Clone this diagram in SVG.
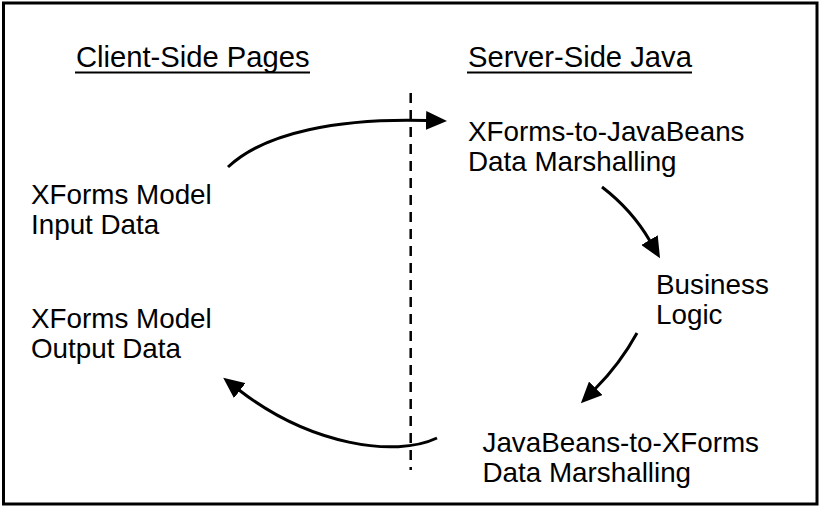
<svg xmlns="http://www.w3.org/2000/svg" width="822" height="509" viewBox="0 0 822 509">
  <style>
    text { font-family: "Liberation Sans", Arial, sans-serif; fill: #000; }
    .lbl { font-size: 27.8px; }
    .hdr { font-size: 29.2px; }
    .ul { stroke: #000; stroke-width: 2.2; }
    .conn { fill: none; stroke: #000; stroke-width: 3; marker-end: url(#arrow); }
  </style>
  <defs>
    <marker id="arrow" viewBox="0 0 21 19" markerWidth="21" markerHeight="19" refX="1" refY="9.5" markerUnits="userSpaceOnUse" orient="auto">
      <path d="M0,0 L21,9.5 L0,19 z" fill="#000"/>
    </marker>
  </defs>
  <rect x="0" y="0" width="822" height="509" fill="#fff"/>
  <rect x="3.5" y="3" width="813.5" height="501" fill="none" stroke="#000" stroke-width="3"/>

  <g id="heading-client">
    <text class="hdr" x="76" y="67">Client-Side Pages</text>
    <line class="ul" x1="75" y1="72.5" x2="310" y2="72.5"/>
  </g>
  <g id="heading-server">
    <text class="hdr" x="468" y="67">Server-Side Java</text>
    <line class="ul" x1="467" y1="72.5" x2="692" y2="72.5"/>
  </g>

  <line id="divider" x1="410.7" y1="93" x2="410.7" y2="470" stroke="#000" stroke-width="2.5" stroke-dasharray="10 7"/>

  <g id="input-data">
    <text class="lbl" x="31" y="204">XForms Model</text>
    <text class="lbl" x="31" y="234">Input Data</text>
  </g>
  <g id="output-data">
    <text class="lbl" x="31" y="328">XForms Model</text>
    <text class="lbl" x="31" y="358">Output Data</text>
  </g>
  <g id="xf-to-jb">
    <text class="lbl" x="468" y="141">XForms-to-JavaBeans</text>
    <text class="lbl" x="468" y="171">Data Marshalling</text>
  </g>
  <g id="business-logic">
    <text class="lbl" x="656" y="293.5">Business</text>
    <text class="lbl" x="656" y="323.5">Logic</text>
  </g>
  <g id="jb-to-xf">
    <text class="lbl" x="482.5" y="452">JavaBeans-to-XForms</text>
    <text class="lbl" x="482.5" y="482">Data Marshalling</text>
  </g>

  <g id="connectors">
    <path class="conn" d="M228,167 C265,132 340,118 427,120.5"/>
    <path class="conn" d="M602,187 Q632,210 650,241"/>
    <path class="conn" d="M637,333 Q620,364 595,389"/>
    <path class="conn" d="M437,438 C395,458 310,445 239,390"/>
  </g>
</svg>
